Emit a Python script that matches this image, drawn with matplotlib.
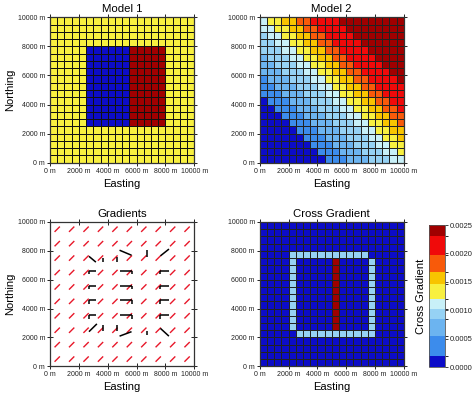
import numpy as np
import matplotlib
matplotlib.use('Agg')
import matplotlib.pyplot as plt
from matplotlib.colors import ListedColormap, BoundaryNorm

plt.rcParams['font.family'] = ['Liberation Sans', 'DejaVu Sans']

# model grid: 20 x 20 cells of 500 m
cell_edges = np.arange(0, 10001, 500)
axis_ticks = [0, 2000, 4000, 6000, 8000, 10000]
tick_labels = ['0 m', '2000 m', '4000 m', '6000 m', '8000 m', '10000 m']

palette = ['#0c0cc8', '#3c8cec', '#6cb4f0', '#96d2f4', '#c8f0f8',
           '#f8f040', '#f8c400', '#f85a0a', '#f00a0a', '#a00000']

# Model 1: yellow background and two blocks (index into palette)
model1_background = 5
model1_blocks_x = [(2500, 5500), (5500, 8000)]
model1_blocks_y = [(2500, 8000), (2500, 8000)]
model1_blocks_class = [0, 9]

# Model 2: colour class for each diagonal (column index + row index)
model2_diag_class = [0, 0, 0, 0, 0, 0, 0, 0, 0,
                     1, 1, 1,
                     2, 2, 2,
                     3, 3, 3,
                     4, 4,
                     5, 5,
                     6, 6,
                     7, 7,
                     8, 8, 8, 8,
                     9, 9, 9, 9, 9, 9, 9, 9, 9]

# Gradients: model 2 gradient sampled every 1000 m, all at 45 degrees
grad_pos = np.arange(500, 10000, 1000)
model2_grad_angle = 45.0
model2_grad_len = 520.0

# model 1 gradient segments (centre x, centre y, dx, dy) in metres
m1_x = [5235, 6750, 7950, 2940, 3650, 4660,
        2940, 2700, 5235, 5650, 7945, 7650,
        2940, 2700, 5235, 5650, 7945, 7650,
        2940, 2700, 5235, 5650, 7945, 7650,
        2940, 2700, 5235, 5650, 7945, 7650,
        2975, 3650, 4660, 5235, 6750, 7945]
m1_y = [7870, 7820, 7890, 7420, 7350, 7400,
        6620, 6505, 6620, 6505, 6620, 6505,
        5580, 5465, 5580, 5465, 5580, 5465,
        4580, 4465, 4580, 4465, 4580, 4465,
        3540, 3425, 3540, 3425, 3540, 3425,
        2670, 2650, 2650, 2245, 2310, 2360]
m1_u = [830, 0, 590, 480, 0, 0,
        480, 0, 830, 0, 590, 0,
        480, 0, 830, 0, 590, 0,
        480, 0, 830, 0, 590, 0,
        480, 0, 830, 0, 590, 0,
        550, 0, 0, 830, 0, 590]
m1_v = [-350, 470, 470, -400, 300, 350,
        0, 230, 0, 230, 0, 230,
        0, 230, 0, 230, 0, 230,
        0, 230, 0, 230, 0, 230,
        0, 230, 0, 230, 0, 230,
        540, 420, 420, 310, 280, -540]

# Cross gradient
cg_bounds = [0, 0.0002, 0.00055, 0.00085, 0.00102, 0.0012,
             0.00147, 0.00167, 0.00197, 0.0023, 0.0025]
cg_ticks = [0, 0.0005, 0.001, 0.0015, 0.002, 0.0025]
cg_background = 0.0001
cg_ring_value = 0.0009
cg_ring_x = (2000, 8000)
cg_ring_y = (2000, 8000)
cg_ring_gaps = [(2250, 2250), (7750, 7750)]
cg_column_value = 0.0024
cg_column_x = (5000, 5500)
cg_column_y = (2500, 7500)

# ---- build the grids ----
centers = cell_edges[:-1] + 250
XC, YC = np.meshgrid(centers, centers)

model1 = np.full(XC.shape, model1_background, dtype=float)
for (x0, x1), (y0, y1), c in zip(model1_blocks_x, model1_blocks_y, model1_blocks_class):
    model1[(XC > x0) & (XC < x1) & (YC > y0) & (YC < y1)] = c

ii, jj = np.meshgrid(np.arange(20), np.arange(20))
model2 = np.array(model2_diag_class, dtype=float)[ii + jj]

cross = np.full(XC.shape, cg_background)
inside = (XC > cg_ring_x[0]) & (XC < cg_ring_x[1]) & (YC > cg_ring_y[0]) & (YC < cg_ring_y[1])
border = (XC < cg_ring_x[0] + 500) | (XC > cg_ring_x[1] - 500) | \
         (YC < cg_ring_y[0] + 500) | (YC > cg_ring_y[1] - 500)
ring = inside & border
for gx, gy in cg_ring_gaps:
    ring &= ~((XC == gx) & (YC == gy))
cross[ring] = cg_ring_value
cross[(XC > cg_column_x[0]) & (XC < cg_column_x[1]) &
      (YC > cg_column_y[0]) & (YC < cg_column_y[1])] = cg_column_value

cmap = ListedColormap(palette)
class_norm = BoundaryNorm(np.arange(-0.5, 10.5, 1), cmap.N)
cg_norm = BoundaryNorm(cg_bounds, cmap.N)

# ---- figure ----
W, H = 474, 397
fig = plt.figure(figsize=(W / 100, H / 100), dpi=100)


def px_axes(x0, y0, x1, y1):
    return fig.add_axes([x0 / W, 1 - y1 / H, (x1 - x0) / W, (y1 - y0) / H])


def style(ax, title):
    ax.set_xlim(0, 10000)
    ax.set_ylim(0, 10000)
    ax.set_xticks(axis_ticks)
    ax.set_yticks(axis_ticks)
    ax.set_xticklabels(tick_labels)
    ax.set_yticklabels(tick_labels)
    ax.tick_params(direction='inout', length=4, width=0.7, labelsize=5,
                   top=True, right=True, pad=1.5, colors='#222222')
    for s in ax.spines.values():
        s.set_linewidth(0.9)
        s.set_color('#333333')
    ax.set_title(title, fontsize=8.2, pad=3.5)
    ax.set_xlabel('Easting', fontsize=8, labelpad=3)
    ax.set_ylabel('Northing', fontsize=8, labelpad=2)


ax1 = px_axes(50, 17.3, 194.3, 162.7)
ax1.pcolormesh(cell_edges, cell_edges, model1, cmap=cmap, norm=class_norm,
               edgecolors='#111111', linewidth=0.7, snap=True)
style(ax1, 'Model 1')

ax2 = px_axes(259.7, 17.3, 403.7, 162.7)
ax2.pcolormesh(cell_edges, cell_edges, model2, cmap=cmap, norm=class_norm,
               edgecolors='#222222', linewidth=0.7, snap=True)
style(ax2, 'Model 2')
ax2.set_ylabel('')

ax3 = px_axes(50, 222, 194.3, 366.3)
a = np.deg2rad(model2_grad_angle)
du = model2_grad_len / 2 * np.cos(a)
dv = model2_grad_len / 2 * np.sin(a)
for gx in grad_pos:
    for gy in grad_pos:
        ax3.plot([gx - du, gx + du], [gy - dv, gy + dv], color='#e8182a', lw=1.0,
                 solid_capstyle='butt')
for x, y, u, v in zip(m1_x, m1_y, m1_u, m1_v):
    ax3.plot([x - u / 2, x + u / 2], [y - v / 2, y + v / 2], color='black', lw=1.1,
             solid_capstyle='butt')
style(ax3, 'Gradients')

ax4 = px_axes(259.7, 222, 403.7, 366.3)
mesh = ax4.pcolormesh(cell_edges, cell_edges, cross, cmap=cmap, norm=cg_norm,
                      edgecolors='#222222', linewidth=0.7, snap=True)
style(ax4, 'Cross Gradient')
ax4.set_ylabel('')

cax = px_axes(429, 225, 445, 367)
cb = fig.colorbar(mesh, cax=cax, spacing='proportional', ticks=cg_ticks, format='%.4f')
cb.outline.set_linewidth(0.6)
cb.outline.set_edgecolor('#555555')
cax.tick_params(labelsize=5.5, length=2, width=0.6, pad=1.5, colors='#222222')
cax.yaxis.set_label_position('left')
cb.set_label('Cross Gradient', fontsize=8, labelpad=2)

fig.savefig('out.png', dpi=100)
